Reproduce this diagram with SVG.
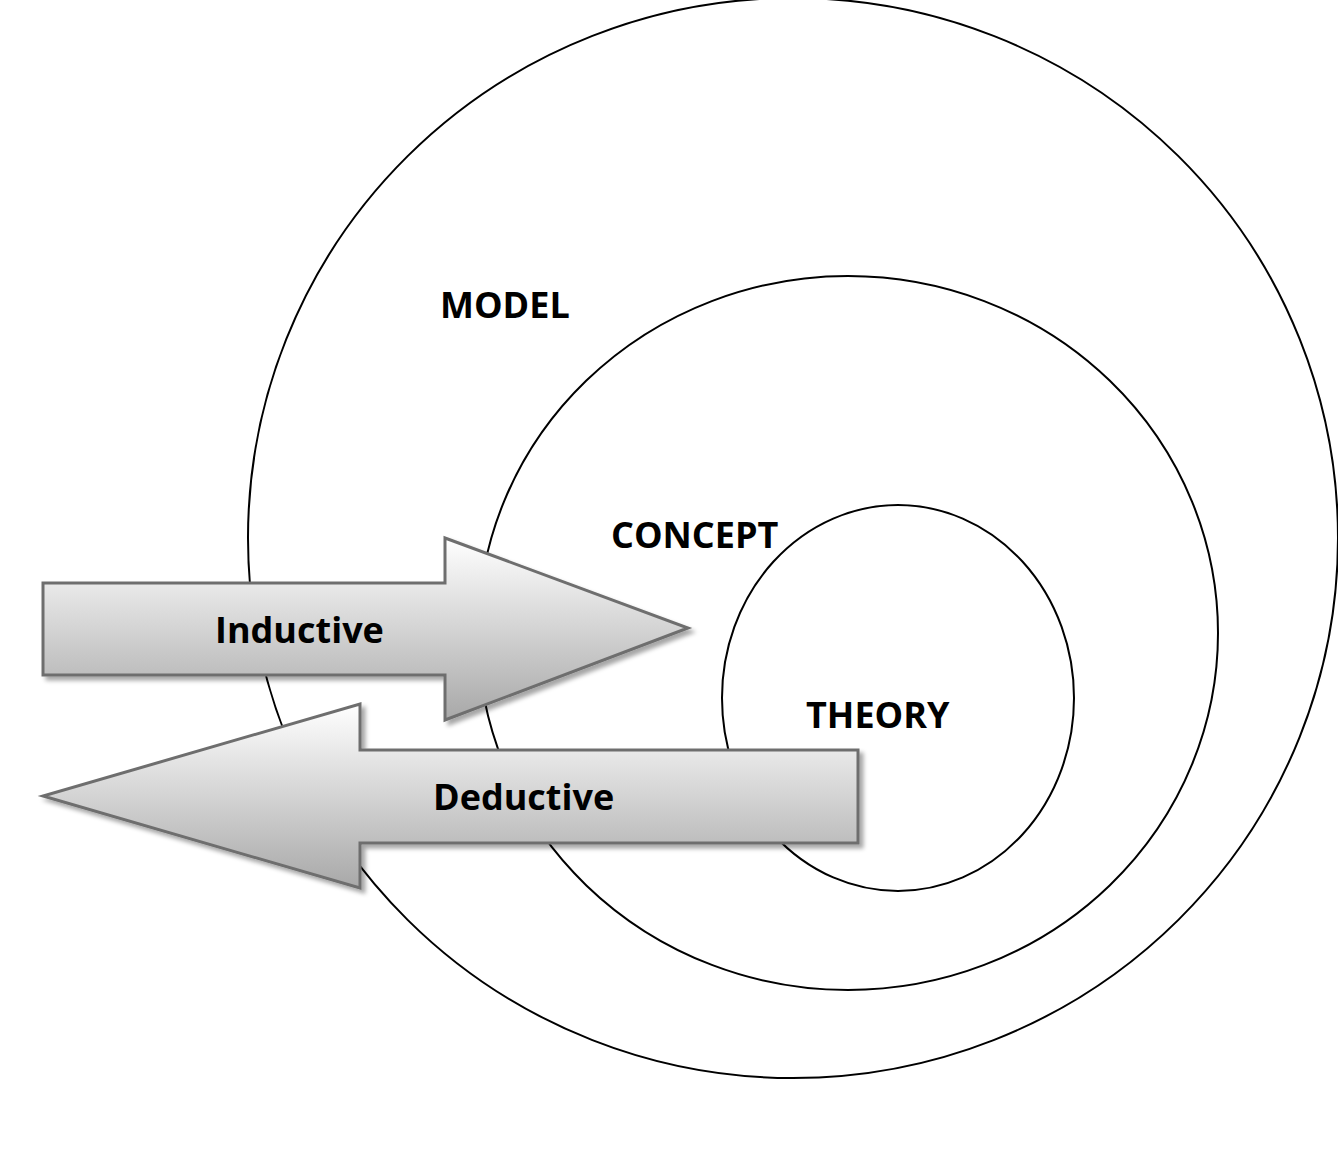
<svg xmlns="http://www.w3.org/2000/svg" width="1338" height="1156" viewBox="0 0 1338 1156">
<style>
.c{fill:none;stroke:#000;stroke-width:2}
.t{font-family:"Open Sans","Liberation Sans",sans-serif;font-weight:bold;font-size:36px;fill:#000}
.a{fill:url(#g);stroke:#6e6e6e;stroke-width:3;filter:url(#s)}
</style>
<defs>
<linearGradient id="g" x1="0" y1="0" x2="0" y2="1"><stop offset="0" stop-color="#ffffff"/><stop offset="1" stop-color="#a8a8a8"/></linearGradient>
<filter id="s" x="-10%" y="-10%" width="120%" height="130%"><feDropShadow dx="4" dy="4" stdDeviation="2" flood-color="#000" flood-opacity="0.35"/></filter>
</defs>
<rect width="1338" height="1156" fill="#fff"/>
<g id="model"><ellipse class="c" cx="793" cy="538" rx="545" ry="540"/><text class="t" x="440" y="318">MODEL</text></g>
<g id="concept"><ellipse class="c" cx="848" cy="633" rx="370" ry="357"/><text class="t" x="611" y="548">CONCEPT</text></g>
<g id="theory"><ellipse class="c" cx="898" cy="698" rx="176" ry="193"/><text class="t" x="806" y="728">THEORY</text></g>
<g id="connectors">
<g id="inductive"><path class="a" d="M43 583H445V538L688 628L445 720V675H43Z"/><text class="t" x="215" y="643">Inductive</text></g>
<g id="deductive"><path class="a" d="M858 750H360V704L43 796L360 888V843H858Z"/><text class="t" x="433" y="810">Deductive</text></g>
</g>
</svg>
